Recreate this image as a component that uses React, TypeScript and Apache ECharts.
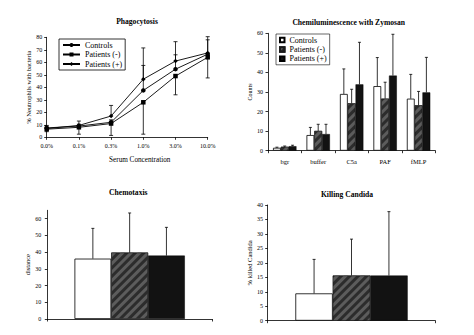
import React, { useEffect, useRef } from 'react';
import * as echarts from 'echarts';

const FONT = '"Liberation Serif", "Times New Roman", serif';

// Phagocytosis
const serumLabels = ['0.0%', '0.1%', '0.3%', '1.0%', '3.0%', '10.0%'];
const phagoControls = [7.5, 9, 12, 37.5, 54.5, 66.5];
const phagoPatMinus = [6.5, 8, 11, 28, 49, 64];
const phagoPatPlus = [7, 9.5, 17, 46.5, 61, 67.5];
const phagoControlsUpper = [9, 10.5, 14, 57.5, 66, 78];
const phagoPatPlusUpper = [9.5, 13, 25.5, 71.5, 76.5, 80.5];
const phagoPatMinusLower = [4.5, 2.5, 1.5, 2.5, 34, 47.5];

// Chemiluminescence
const stimuli = ['bgr', 'buffer', 'C5a', 'PAF', 'fMLP'];
const chemiControls = [1.5, 8, 29, 33, 26.6];
const chemiPatMinus = [2, 10.1, 24.2, 26.6, 23.2];
const chemiPatPlus = [2.3, 8.5, 33.9, 38.4, 29.8];
const chemiControlsErr = [1.8, 11.9, 41.8, 47.6, 39];
const chemiPatMinusErr = [2.4, 13.5, 31.4, 35, 30.3];
const chemiPatPlusErr = [2.8, 13.5, 55.4, 59.5, 47.7];

// Chemotaxis & Killing
const chemotaxisValues = [36.1, 39.7, 37.9];
const chemotaxisErr = [54.2, 63.4, 54.8];
const killingValues = [9.45, 15.6, 15.6];
const killingErr = [21.2, 28.2, 37.7];

const groupNames = ['Controls', 'Patients (-)', 'Patients (+)'];

const stripeDecal = {
  symbol: 'rect',
  symbolSize: 1,
  dashArrayX: [1, 0],
  dashArrayY: [2.5, 3],
  rotation: -Math.PI / 4,
  color: '#5c5c5c',
};

const barStyles: any[] = [
  { color: '#ffffff', borderColor: '#000', borderWidth: 0.8 },
  { color: '#2c2c2c', borderColor: '#1a1a1a', borderWidth: 0.5, decal: stripeDecal },
  { color: '#121212', borderColor: '#000', borderWidth: 0.5 },
];

function errorRenderer(offsetIndex: number, nBars: number, gapFrac: number, capHalf: number) {
  return (params: any, api: any) => {
    const cat = api.value(0);
    const v = api.value(1);
    const e = api.value(2);
    const p0 = api.coord([cat, v]);
    const p1 = api.coord([cat, e]);
    let x = p0[0];
    if (nBars > 0) {
      const band = api.size([1, 0])[0];
      const w = (band * (1 - gapFrac)) / nBars;
      x = p0[0] + (offsetIndex - (nBars - 1) / 2) * w;
    }
    return {
      type: 'group',
      children: [
        { type: 'line', shape: { x1: x, y1: p0[1], x2: x, y2: p1[1] }, style: { stroke: '#000', lineWidth: 0.8 } },
        { type: 'line', shape: { x1: x - capHalf, y1: p1[1], x2: x + capHalf, y2: p1[1] }, style: { stroke: '#000', lineWidth: 0.8 } },
      ],
    };
  };
}

const axisLine = { show: true, lineStyle: { color: '#000', width: 0.8 } };
const axisTick = { show: true, length: 2.5, lineStyle: { color: '#000', width: 0.8 } };
const tickLabel = (size: number, margin: number) => ({ fontSize: size, fontFamily: FONT, color: '#000', margin });

export default function App() {
  const ref = useRef<HTMLDivElement>(null);
  useEffect(() => {
    if (!ref.current) return;
    const chart = echarts.init(ref.current, null, { renderer: 'svg' });

    const phagoMeans = [phagoControls, phagoPatMinus, phagoPatPlus];
    const symbols = ['circle', 'rect', 'diamond'];
    const symbolSizes = [4.5, 4.5, 4.5];
    const chemiMeans = [chemiControls, chemiPatMinus, chemiPatPlus];
    const chemiErrs = [chemiControlsErr, chemiPatMinusErr, chemiPatPlusErr];

    const series: any[] = [];
    // Panel 1 lines
    groupNames.forEach((n, i) => {
      series.push({
        type: 'line',
        name: n,
        xAxisIndex: 0,
        yAxisIndex: 0,
        data: phagoMeans[i],
        symbol: symbols[i],
        symbolSize: symbolSizes[i],
        lineStyle: { color: '#000', width: 0.9 },
        itemStyle: { color: '#000' },
        z: 3,
      });
    });
    const phagoErrSets = [
      [phagoControls, phagoControlsUpper],
      [phagoPatMinus, phagoPatMinusLower],
      [phagoPatPlus, phagoPatPlusUpper],
    ];
    phagoErrSets.forEach(([m, e], i) => {
      series.push({
        type: 'custom',
        name: 'err1-' + i,
        xAxisIndex: 0,
        yAxisIndex: 0,
        renderItem: errorRenderer(0, 0, 0, 2),
        encode: { x: 0, y: 1 },
        data: m.map((v, k) => [k, v, e[k]]),
        z: 2,
      });
    });
    // Panel 2 bars
    groupNames.forEach((n, i) => {
      series.push({
        type: 'bar',
        name: 'c:' + n,
        xAxisIndex: 1,
        yAxisIndex: 1,
        data: chemiMeans[i],
        barGap: '0%',
        barCategoryGap: '30%',
        itemStyle: barStyles[i],
      });
    });
    groupNames.forEach((n, i) => {
      series.push({
        type: 'custom',
        name: 'err2-' + i,
        xAxisIndex: 1,
        yAxisIndex: 1,
        renderItem: errorRenderer(i, 3, 0.3, 1.5),
        encode: { x: 0, y: 1 },
        data: chemiMeans[i].map((v, k) => [k, v, chemiErrs[i][k]]),
        z: 3,
      });
    });
    // Panel 3 & 4 bars
    const bottom = [
      { vals: chemotaxisValues, errs: chemotaxisErr, ax: 2, p: 'x:' },
      { vals: killingValues, errs: killingErr, ax: 3, p: 'k:' },
    ];
    bottom.forEach((b) => {
      groupNames.forEach((n, i) => {
        series.push({
          type: 'bar',
          name: b.p + n,
          xAxisIndex: b.ax,
          yAxisIndex: b.ax,
          data: [b.vals[i]],
          barGap: '0%',
          barCategoryGap: '33%',
          itemStyle: barStyles[i],
        });
      });
      groupNames.forEach((n, i) => {
        series.push({
          type: 'custom',
          name: b.p + 'err' + i,
          xAxisIndex: b.ax,
          yAxisIndex: b.ax,
          renderItem: errorRenderer(i, 3, 0.33, 1.5),
          encode: { x: 0, y: 1 },
          data: [[0, b.vals[i], b.errs[i]]],
          z: 3,
        });
      });
    });

    const titleStyle = { fontSize: 7.6, fontWeight: 'bold', fontFamily: FONT, color: '#000' };
    const nameStyle = (size: number) => ({ fontSize: size, fontFamily: FONT, color: '#000' });

    const option: any = {
      animation: false,
      backgroundColor: '#fff',
      title: [
        { text: 'Phagocytosis', left: 137, top: 17.5, textAlign: 'center', padding: 0, textStyle: titleStyle },
        { text: 'Chemiluminescence with Zymosan', left: 348.7, top: 18.9, textAlign: 'center', padding: 0, textStyle: titleStyle },
        { text: 'Chemotaxis', left: 128.3, top: 188.9, textAlign: 'center', padding: 0, textStyle: titleStyle },
        { text: 'Killing Candida', left: 347, top: 190.5, textAlign: 'center', padding: 0, textStyle: titleStyle },
      ],
      legend: [
        {
          data: groupNames,
          left: 59,
          top: 39,
          orient: 'vertical',
          itemGap: 1.5,
          itemWidth: 17,
          itemHeight: 5,
          padding: [2, 3, 2, 3],
          borderColor: '#000',
          borderWidth: 0.8,
          selectedMode: false,
          textStyle: { fontSize: 8, fontFamily: FONT, color: '#000' },
        },
        {
          data: groupNames.map((n) => 'c:' + n),
          formatter: (name: string) => name.slice(2),
          left: 276,
          top: 34,
          orient: 'vertical',
          icon: 'rect',
          itemGap: 1.4,
          itemWidth: 4.5,
          itemHeight: 4.5,
          padding: [2, 3, 2, 3],
          borderColor: '#000',
          borderWidth: 0.6,
          selectedMode: false,
          textStyle: { fontSize: 8, fontFamily: FONT, color: '#000' },
        },
      ],
      grid: [
        { left: 46.7, width: 161, top: 37.3, height: 100 },
        { left: 268, width: 167.3, top: 33.3, height: 117.4 },
        { left: 47.3, width: 164.7, top: 210.3, height: 108.7 },
        { left: 267.7, width: 167.6, top: 205, height: 115.7 },
      ],
      xAxis: [
        {
          gridIndex: 0,
          type: 'category',
          data: serumLabels,
          boundaryGap: false,
          axisLine,
          axisTick: { ...axisTick, alignWithLabel: true },
          axisLabel: tickLabel(6, 6),
          name: 'Serum Concentration',
          nameLocation: 'middle',
          nameGap: 19,
          nameTextStyle: { ...nameStyle(7.2), padding: [0, 0, 0, 25] },
        },
        {
          gridIndex: 1,
          type: 'category',
          data: stimuli,
          axisLine,
          axisTick,
          axisLabel: tickLabel(6.5, 7),
        },
        {
          gridIndex: 2,
          type: 'category',
          data: [''],
          axisLine,
          axisTick,
          axisLabel: { show: false },
        },
        {
          gridIndex: 3,
          type: 'category',
          data: [''],
          axisLine,
          axisTick,
          axisLabel: { show: false },
        },
      ],
      yAxis: [
        {
          gridIndex: 0,
          type: 'value',
          min: 0,
          max: 80,
          interval: 10,
          axisLine,
          axisTick,
          splitLine: { show: false },
          axisLabel: tickLabel(6, 4.4),
          name: '% Neutrophils with bacteria',
          nameLocation: 'middle',
          nameGap: 14.4,
          nameTextStyle: nameStyle(6.5),
        },
        {
          gridIndex: 1,
          type: 'value',
          min: 0,
          max: 60,
          interval: 10,
          axisLine,
          axisTick,
          splitLine: { show: false },
          axisLabel: tickLabel(6, 5),
          name: 'Counts',
          nameLocation: 'middle',
          nameGap: 14,
          nameTextStyle: nameStyle(6),
        },
        {
          gridIndex: 2,
          type: 'value',
          min: 0,
          max: 65,
          axisLine,
          axisTick: { ...axisTick, customValues: [0, 10, 20, 30, 40, 50, 60] },
          splitLine: { show: false },
          axisLabel: { ...tickLabel(6, 6), customValues: [0, 10, 20, 30, 40, 50, 60] },
          name: 'distance',
          nameLocation: 'middle',
          nameGap: 14.7,
          nameTextStyle: nameStyle(6.5),
        },
        {
          gridIndex: 3,
          type: 'value',
          min: 0,
          max: 40,
          interval: 5,
          axisLine,
          axisTick,
          splitLine: { show: false },
          axisLabel: tickLabel(6, 4.7),
          name: '% killed Candida',
          nameLocation: 'middle',
          nameGap: 13.7,
          nameTextStyle: nameStyle(6.5),
        },
      ],
      series,
    };
    chart.setOption(option);
    return () => chart.dispose();
  }, []);
  return (
    <div
      ref={ref}
      style={{ position: 'fixed', left: 0, top: 0, width: 474, height: 335, background: '#fff' }}
    />
  );
}
